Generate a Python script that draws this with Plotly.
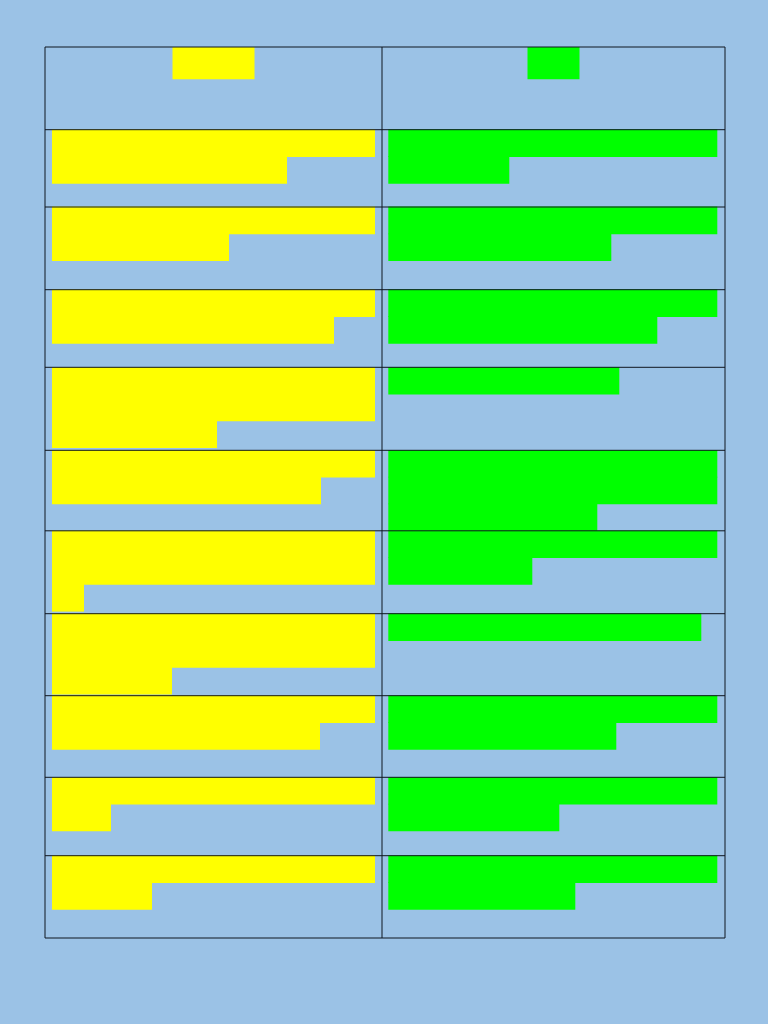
import plotly.graph_objects as go

# ---- data: widths (px-like units) of each highlighted text line ----
header_left = 82
header_right = 52

left_rows = [
    [323, 235],
    [323, 177],
    [323, 282],
    [323, 323, 165],
    [323, 269],
    [323, 323, 32],
    [323, 323, 120],
    [323, 268],
    [323, 59],
    [323, 100],
]

right_rows = [
    [329, 121],
    [329, 223],
    [329, 269],
    [231],
    [329, 329, 209],
    [329, 144],
    [313],
    [329, 228],
    [329, 171],
    [329, 187],
]

# ---- layout constants (table geometry, in pixels relative to table top-left) ----
row_edges = [0, 82.7, 160, 242.7, 320.3, 403.3, 483.8, 566.7, 648.7, 730.3, 808.7, 891]
table_w = 680
mid_x = 337
left_pad = 7
right_pad = 6.3
line_h = 26.8
header_h = 32.3
overlap = 0.8  # tiny overlap so stacked lines merge without seams

YELLOW = "#FFFF00"
GREEN = "#00FF00"
BG = "#9BC2E6"
BORDER = "#0F1620"

fig = go.Figure()


def add_lines(widths_by_row, base_x, color):
    ys, xs, bases = [], [], []
    for r, widths in enumerate(widths_by_row):
        top = row_edges[r + 1]
        for k, w in enumerate(widths):
            ys.append(top + (k + 0.5) * line_h)
            xs.append(w)
            bases.append(base_x)
    fig.add_trace(go.Bar(
        orientation="h", y=ys, x=xs, base=bases, width=line_h + overlap,
        marker=dict(color=color, line=dict(width=0)),
        hoverinfo="skip", showlegend=False,
    ))


# header cells (centered text blocks)
left_center = mid_x / 2
right_center = (mid_x + table_w) / 2
fig.add_trace(go.Bar(
    orientation="h", y=[header_h / 2], x=[header_left], base=[left_center - header_left / 2],
    width=header_h, marker=dict(color=YELLOW, line=dict(width=0)),
    hoverinfo="skip", showlegend=False,
))
fig.add_trace(go.Bar(
    orientation="h", y=[header_h / 2], x=[header_right], base=[right_center - header_right / 2],
    width=header_h, marker=dict(color=GREEN, line=dict(width=0)),
    hoverinfo="skip", showlegend=False,
))

add_lines(left_rows, left_pad, YELLOW)
add_lines(right_rows, mid_x + right_pad, GREEN)

# table borders
shapes = [dict(type="rect", x0=0, x1=table_w, y0=0, y1=row_edges[-1],
               line=dict(color=BORDER, width=1), layer="above")]
for e in row_edges[1:-1]:
    shapes.append(dict(type="line", x0=0, x1=table_w, y0=e, y1=e,
                       line=dict(color=BORDER, width=1), layer="above"))
shapes.append(dict(type="line", x0=mid_x, x1=mid_x, y0=0, y1=row_edges[-1],
                   line=dict(color=BORDER, width=1), layer="above"))

fig.update_layout(
    width=768, height=1024,
    margin=dict(l=0, r=0, t=0, b=0),
    paper_bgcolor=BG, plot_bgcolor=BG,
    barmode="overlay",
    shapes=shapes,
    xaxis=dict(range=[-45, 723], visible=False, fixedrange=True),
    yaxis=dict(range=[977, -47], visible=False, fixedrange=True),
    showlegend=False,
)

fig.write_html(
    "out.html",
    config={"displayModeBar": False},
    post_script="document.body.style.margin='0';document.body.style.background='%s';" % BG,
)
